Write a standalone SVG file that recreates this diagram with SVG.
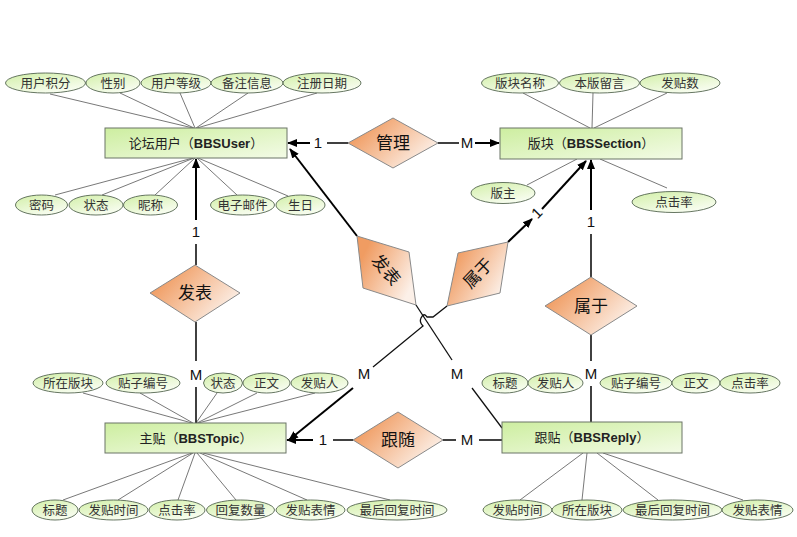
<svg xmlns="http://www.w3.org/2000/svg" width="797" height="537" viewBox="0 0 797 537">
<defs>
<linearGradient id="gEnt" x1="0" y1="0" x2="1" y2="1"><stop offset="0" stop-color="#cdeea0"/><stop offset="1" stop-color="#f3fbe6"/></linearGradient>
<linearGradient id="gAtt" x1="0" y1="0" x2="0.6" y2="1"><stop offset="0" stop-color="#d2efa8"/><stop offset="1" stop-color="#f8fdf0"/></linearGradient>
<linearGradient id="gRel" x1="0" y1="0" x2="1" y2="0.6"><stop offset="0.2" stop-color="#f09c62"/><stop offset="1" stop-color="#fcf0e8"/></linearGradient>
<marker id="arr" viewBox="0 0 10 10" refX="9" refY="5" markerWidth="5" markerHeight="5" orient="auto" markerUnits="strokeWidth"><path d="M0,1 L10,5 L0,9 z" fill="#000"/></marker>
</defs>
<style>
text{font-family:"Liberation Sans","Noto Sans CJK SC",sans-serif;fill:#222;text-anchor:middle}
.ent rect{fill:url(#gEnt);stroke:#6b7566;stroke-width:1}
.ent text{font-size:13px}
.att ellipse{fill:url(#gAtt);stroke:#556650;stroke-width:0.9}
.att text{font-size:12.5px;fill:#333}
.rel polygon{fill:url(#gRel);stroke:#8a8a8a;stroke-width:1}
.rel text{font-size:17px;fill:#111}
.al{stroke:#555;stroke-width:0.8;fill:none}
.rl{stroke:#111;stroke-width:1.6;fill:none}
.ar{stroke:#000;stroke-width:2;fill:none;marker-end:url(#arr)}
.lb{font-size:15px;fill:#111}
</style>
<rect width="797" height="537" fill="#fff"/>

<g id="connectors">
<line class="al" x1="50" y1="94" x2="193" y2="128"/>
<line class="al" x1="120" y1="93" x2="194" y2="128"/>
<line class="al" x1="180" y1="93" x2="195" y2="128"/>
<line class="al" x1="248" y1="93" x2="196" y2="128"/>
<line class="al" x1="317" y1="93" x2="197" y2="128"/>
<line class="al" x1="55" y1="195" x2="193" y2="158"/>
<line class="al" x1="102" y1="195" x2="194" y2="158"/>
<line class="al" x1="155" y1="195" x2="195" y2="158"/>
<line class="al" x1="237" y1="195" x2="197" y2="158"/>
<line class="al" x1="288" y1="196" x2="198" y2="158"/>
<line class="al" x1="523" y1="93" x2="590" y2="128"/>
<line class="al" x1="593" y1="93" x2="592" y2="128"/>
<line class="al" x1="667" y1="93" x2="594" y2="128"/>
<line class="al" x1="527" y1="185" x2="577" y2="159"/>
<line class="al" x1="667" y1="188" x2="600" y2="159"/>
<line class="al" x1="83" y1="393" x2="192" y2="423"/>
<line class="al" x1="140" y1="393" x2="193" y2="423"/>
<line class="al" x1="217" y1="393" x2="196" y2="423"/>
<line class="al" x1="257" y1="393" x2="197" y2="423"/>
<line class="al" x1="315" y1="393" x2="198" y2="423"/>
<line class="al" x1="63" y1="500" x2="192" y2="453"/>
<line class="al" x1="118" y1="500" x2="193" y2="453"/>
<line class="al" x1="178" y1="500" x2="195" y2="453"/>
<line class="al" x1="236" y1="500" x2="197" y2="453"/>
<line class="al" x1="307" y1="500" x2="200" y2="453"/>
<line class="al" x1="390" y1="500" x2="203" y2="453"/>
<line class="al" x1="520" y1="500" x2="583" y2="453"/>
<line class="al" x1="582" y1="500" x2="587" y2="453"/>
<line class="al" x1="658" y1="500" x2="597" y2="453"/>
<line class="al" x1="743" y1="500" x2="603" y2="453"/>

<line class="ar" x1="310" y1="143" x2="288" y2="143"/>
<line class="rl" x1="327" y1="143" x2="348" y2="143"/>
<line class="rl" x1="438" y1="143" x2="459" y2="143"/>
<line class="ar" x1="475" y1="143" x2="499" y2="143"/>
<line class="ar" x1="196" y1="220" x2="196" y2="159"/>
<line class="rl" x1="196" y1="244" x2="196" y2="265"/>
<line class="rl" x1="196" y1="322" x2="196" y2="361"/>
<line class="rl" x1="196" y1="387" x2="196" y2="423"/>
<line class="ar" x1="591" y1="210" x2="591" y2="160"/>
<line class="rl" x1="591" y1="234" x2="591" y2="277"/>
<line class="rl" x1="591" y1="335" x2="591" y2="361"/>
<line class="rl" x1="591" y1="386" x2="591" y2="422"/>
<line class="ar" x1="313" y1="440" x2="287" y2="440"/>
<line class="rl" x1="333" y1="440" x2="353" y2="440"/>
<line class="rl" x1="443" y1="440" x2="456" y2="440"/>
<line class="rl" x1="479" y1="440" x2="502" y2="440"/>
<line class="ar" x1="357" y1="236" x2="290" y2="149"/>
<polyline class="rl" style="stroke-width:1.3" points="416,305 452,360"/>
<line class="rl" style="stroke-width:1.3" x1="472" y1="388" x2="502" y2="428"/>
<line class="ar" x1="508" y1="242" x2="532" y2="219"/>
<line class="ar" x1="542" y1="209" x2="586" y2="161"/>
<path class="rl" style="stroke-width:1.3" d="M447,306 L433,317 L427,317 Q424,312 421,318 Q419,322 423,326 L373,367"/>
<line class="ar" x1="353" y1="388" x2="289" y2="440"/>

<text class="lb" x="318" y="148">1</text>
<text class="lb" x="467" y="148">M</text>
<text class="lb" x="196" y="237">1</text>
<text class="lb" x="196" y="380">M</text>
<text class="lb" x="591" y="227">1</text>
<text class="lb" x="591" y="379">M</text>
<text class="lb" x="323" y="445">1</text>
<text class="lb" x="467" y="445">M</text>
<text class="lb" x="364" y="379">M</text>
<text class="lb" x="457" y="379">M</text>
<text class="lb" x="537" y="218" transform="rotate(-45 537 213)">1</text>
</g>

<g id="user" class="ent"><rect x="105" y="128" width="182" height="30"/><text x="196" y="148">论坛用户（<tspan font-weight="bold">BBSUser</tspan>）</text></g>
<g id="section" class="ent"><rect x="500" y="128" width="182" height="31"/><text x="591" y="148">版块（<tspan font-weight="bold">BBSSection</tspan>）</text></g>
<g id="topic" class="ent"><rect x="105" y="423" width="181" height="30"/><text x="196" y="443">主贴（<tspan font-weight="bold">BBSTopic</tspan>）</text></g>
<g id="reply" class="ent"><rect x="502" y="422" width="180" height="31"/><text x="592" y="442">跟贴（<tspan font-weight="bold">BBSReply</tspan>）</text></g>

<g id="rel-manage" class="rel"><polygon points="348,143 393,118 438,143 393,168"/><text x="393" y="149">管理</text></g>
<g id="rel-post" class="rel"><polygon points="150,293 195,265 240,293 195,322"/><text x="195" y="299">发表</text></g>
<g id="rel-belong" class="rel"><polygon points="545,306 591,277 637,306 591,335"/><text x="591" y="312">属于</text></g>
<g id="rel-follow" class="rel"><polygon points="353,440 398,412 443,440 398,468"/><text x="398" y="446">跟随</text></g>
<g id="rel-post2" class="rel"><polygon points="357,236 409,252 416,305 363,288"/><text x="386" y="276" transform="rotate(50 386 270)">发表</text></g>
<g id="rel-belong2" class="rel"><polygon points="508,242 500,293 447,306 458,253"/><text x="478" y="279" transform="rotate(-46 478 273)">属于</text></g>

<g id="attrs-user" class="att">
<g><ellipse cx="45.5" cy="83" rx="40" ry="10"/><text x="45.5" y="87.5">用户积分</text></g>
<g><ellipse cx="113" cy="83" rx="27" ry="10"/><text x="113" y="87.5">性别</text></g>
<g><ellipse cx="176" cy="83" rx="35" ry="10"/><text x="176" y="87.5">用户等级</text></g>
<g><ellipse cx="247" cy="83" rx="36" ry="10"/><text x="247" y="87.5">备注信息</text></g>
<g><ellipse cx="322" cy="83" rx="39" ry="10"/><text x="322" y="87.5">注册日期</text></g>
<g><ellipse cx="41.5" cy="205" rx="26" ry="10"/><text x="41.5" y="209.5">密码</text></g>
<g><ellipse cx="96" cy="205" rx="27" ry="10"/><text x="96" y="209.5">状态</text></g>
<g><ellipse cx="150.5" cy="205" rx="27" ry="10"/><text x="150.5" y="209.5">昵称</text></g>
<g><ellipse cx="242.5" cy="205" rx="32" ry="10"/><text x="242.5" y="209.5">电子邮件</text></g>
<g><ellipse cx="300.5" cy="205" rx="24.5" ry="10"/><text x="300.5" y="209.5">生日</text></g>
</g>
<g id="attrs-section" class="att">
<g><ellipse cx="520" cy="83" rx="38.5" ry="10"/><text x="520" y="87.5">版块名称</text></g>
<g><ellipse cx="599.5" cy="83" rx="40" ry="10"/><text x="599.5" y="87.5">本版留言</text></g>
<g><ellipse cx="680" cy="83" rx="40" ry="10"/><text x="680" y="87.5">发贴数</text></g>
<g><ellipse cx="503" cy="193" rx="32" ry="10.5"/><text x="503" y="197.5">版主</text></g>
<g><ellipse cx="674" cy="202" rx="42" ry="10.5"/><text x="674" y="206.5">点击率</text></g>
</g>
<g id="attrs-topic" class="att">
<g><ellipse cx="68" cy="383" rx="35" ry="10"/><text x="68" y="387.5">所在版块</text></g>
<g><ellipse cx="143" cy="383" rx="37" ry="10"/><text x="143" y="387.5">贴子编号</text></g>
<g><ellipse cx="223" cy="383" rx="19.5" ry="10"/><text x="223" y="387.5">状态</text></g>
<g><ellipse cx="266.5" cy="383" rx="23.5" ry="10"/><text x="266.5" y="387.5">正文</text></g>
<g><ellipse cx="319.5" cy="383" rx="28.5" ry="10"/><text x="319.5" y="387.5">发贴人</text></g>
<g><ellipse cx="55" cy="510" rx="23" ry="10"/><text x="55" y="514.5">标题</text></g>
<g><ellipse cx="113.5" cy="510" rx="34.5" ry="10"/><text x="113.5" y="514.5">发贴时间</text></g>
<g><ellipse cx="177" cy="510" rx="28" ry="10"/><text x="177" y="514.5">点击率</text></g>
<g><ellipse cx="240.5" cy="510" rx="34" ry="10"/><text x="240.5" y="514.5">回复数量</text></g>
<g><ellipse cx="310.5" cy="510" rx="34.5" ry="10"/><text x="310.5" y="514.5">发贴表情</text></g>
<g><ellipse cx="397" cy="510" rx="50" ry="10"/><text x="397" y="514.5">最后回复时间</text></g>
</g>
<g id="attrs-reply" class="att">
<g><ellipse cx="505" cy="383" rx="23" ry="10"/><text x="505" y="387.5">标题</text></g>
<g><ellipse cx="555.5" cy="383" rx="27.5" ry="10"/><text x="555.5" y="387.5">发贴人</text></g>
<g><ellipse cx="636" cy="383" rx="36" ry="10"/><text x="636" y="387.5">贴子编号</text></g>
<g><ellipse cx="696" cy="383" rx="24" ry="10"/><text x="696" y="387.5">正文</text></g>
<g><ellipse cx="750" cy="383" rx="30" ry="10"/><text x="750" y="387.5">点击率</text></g>
<g><ellipse cx="517.5" cy="510" rx="34.5" ry="10"/><text x="517.5" y="514.5">发贴时间</text></g>
<g><ellipse cx="587" cy="510" rx="35" ry="10"/><text x="587" y="514.5">所在版块</text></g>
<g><ellipse cx="672.5" cy="510" rx="49.5" ry="10"/><text x="672.5" y="514.5">最后回复时间</text></g>
<g><ellipse cx="757.5" cy="510" rx="35.5" ry="10"/><text x="757.5" y="514.5">发贴表情</text></g>
</g>
</svg>
